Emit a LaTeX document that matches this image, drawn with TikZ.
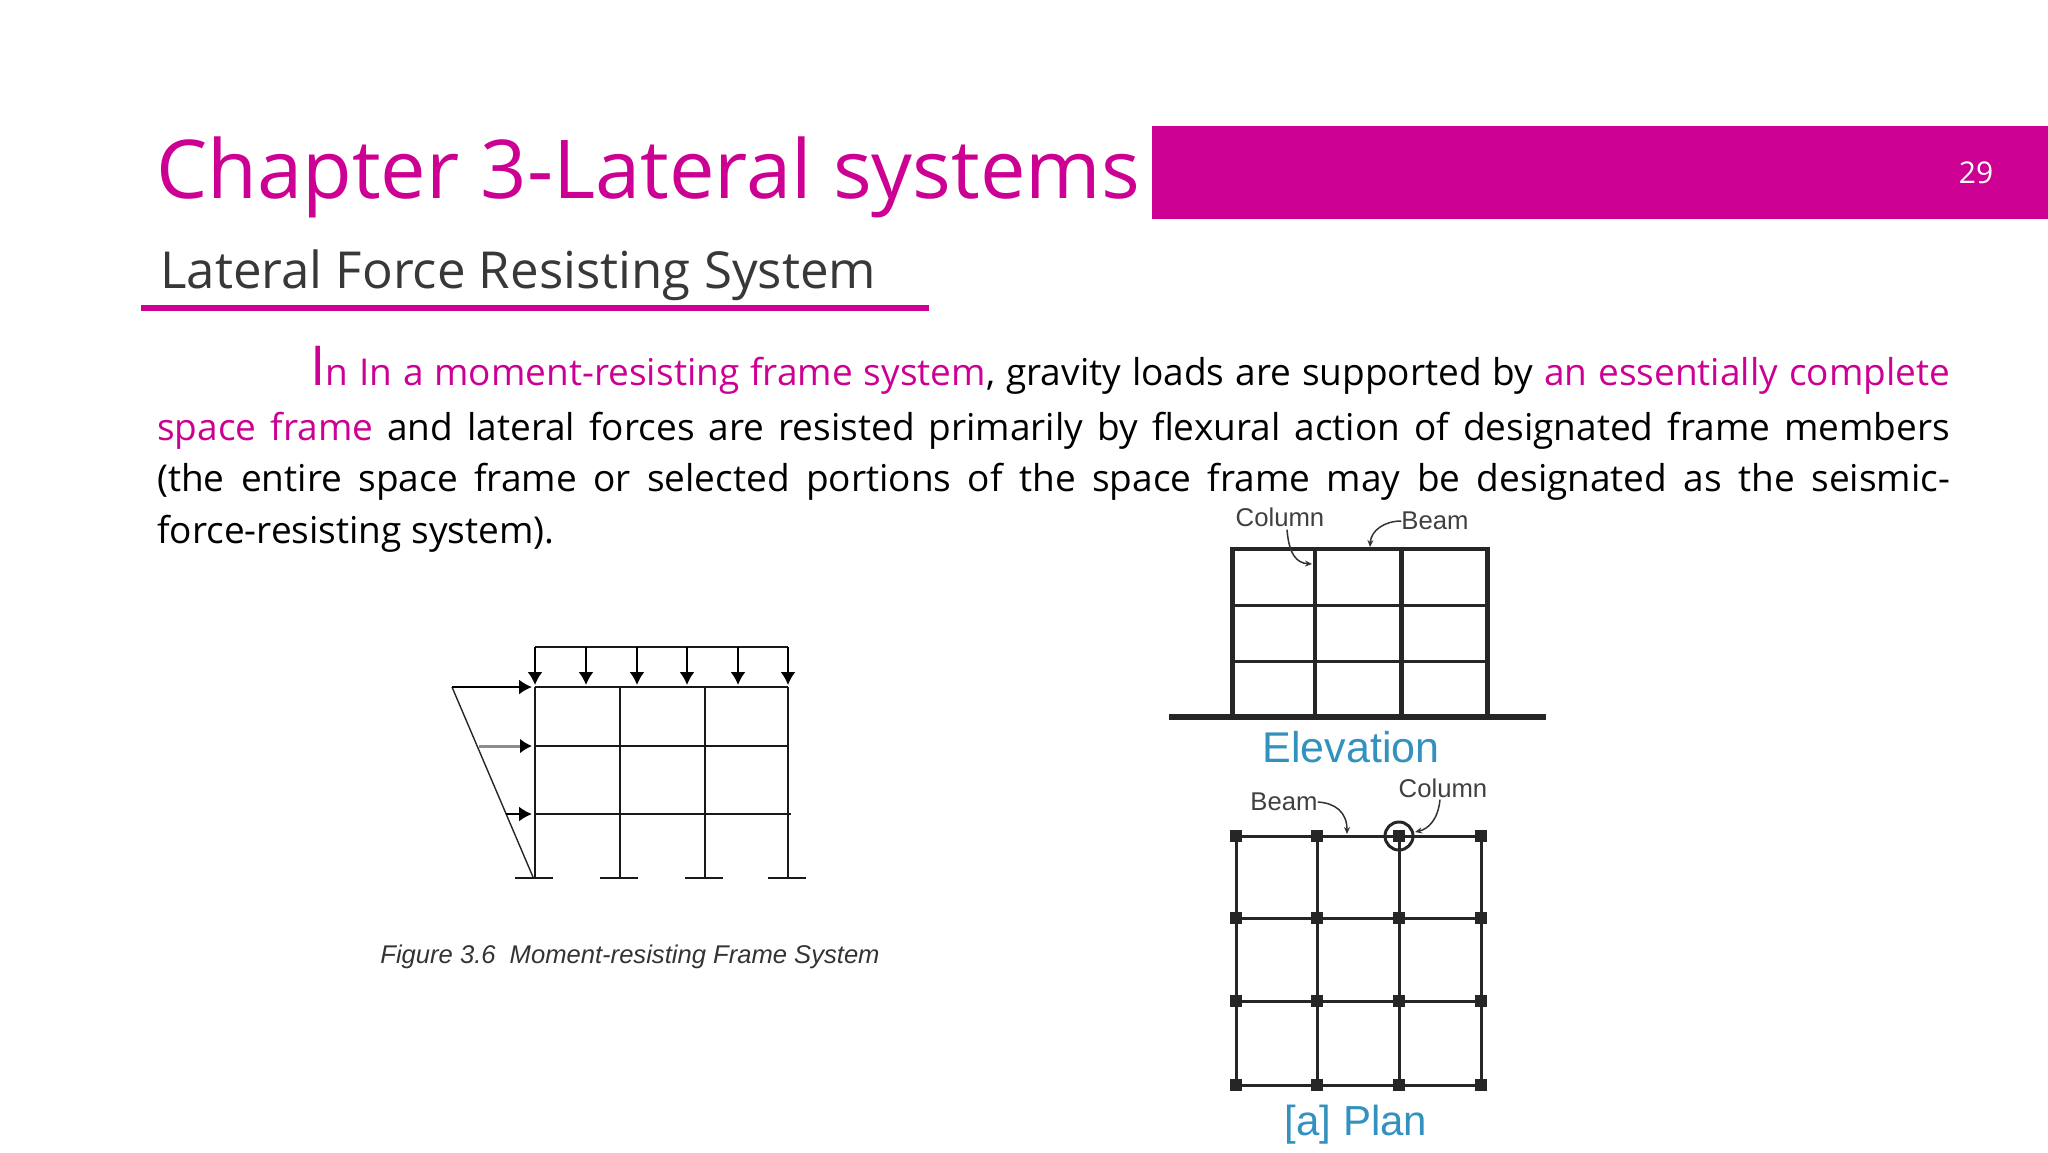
\documentclass[tikz,border=0pt]{standalone}
\usepackage{fontspec}
\usetikzlibrary{arrows.meta}
\setmainfont{Open Sans}
\setsansfont{Liberation Sans}
\definecolor{Mag}{RGB}{204,0,146}
\definecolor{Plan}{RGB}{50,145,190}
\newcommand{\drawframe}{\draw[line width=2pt,black!90]}
\newcommand{\magtext}[1]{\textcolor{Mag}{#1}}
\newcommand{\bodyline}[4]{\node[bodytext] (#1) at (#2,#3) {#4};}
\begin{document}
\begin{tikzpicture}[x=1pt,y=-1pt,
  bodytext/.style={anchor=base west,font=\fontsize{37}{37}\selectfont,inner sep=0},
  callout/.style={anchor=center,font=\sffamily\fontsize{25.7}{26}\selectfont,text=black!75,inner sep=0},
  bluetitle/.style={anchor=center,font=\sffamily\fontsize{43}{43}\selectfont,text=Plan,inner sep=0},
  loadtip/.style={-{Latex[length=13pt,width=15pt]},line width=2pt},
  calltip/.style={-{Stealth[length=7pt,width=6pt]},line width=1.5pt,black!80}]
\useasboundingbox (0,0) rectangle (2048,1152);
\fill[Mag] (1152,126) rectangle (2048,219);
\node[anchor=center,text=white,font=\fontsize{30}{30}\selectfont] (pagenum) at (1976,173) {29};
\node[anchor=base west,inner sep=0,text=Mag,font=\fontsize{81.2}{81}\selectfont] (title) at (156,198) {Chapter 3-Lateral systems};
\node[anchor=base west,inner sep=0,font=\fontsize{51}{51}\selectfont,text=black!78] (subtitle) at (160,288) {Lateral Force Resisting System};
\draw[Mag,line width=5.5pt] (141,308)--(929,308);
% body text
\bodyline{lineA}{310}{385}{\makebox[1640pt][s]{\magtext{{\fontsize{55}{55}\selectfont I}n In a moment-resisting frame system}, gravity loads are supported by \magtext{an essentially complete}}}
\bodyline{lineB}{157}{440}{\makebox[1793pt][s]{\magtext{space frame} and lateral forces are resisted primarily by flexural action of designated frame members}}
\bodyline{lineC}{157}{491}{\makebox[1793pt][s]{(the entire space frame or selected portions of the space frame may be designated as the seismic-}}
\bodyline{lineD}{157}{543}{force-resisting system).}
% moment frame
\foreach \x in {535,620,705,788}{
  \drawframe (\x,687)--(\x,878);
  \drawframe (\x-20,878)--(\x+18,878);
}
\drawframe (535,687)--(788,687);
\drawframe (535,746)--(788,746);
\drawframe (535,814)--(791,814);
\drawframe (535,647)--(788,647);
\foreach \x in {535,586,637,687,738,788}{
  \draw[loadtip] (\x,647)--(\x,685);
}
\draw[line width=1.4pt,black!85] (452,687)--(533,877);
\draw[loadtip] (452,687)--(532,687);
\draw[loadtip,draw=black!45,line width=3pt,{Latex[length=12pt,width=15pt,black]}-] (532,746)--(479,746);
\draw[loadtip] (506,814)--(532,814);
\node[anchor=center,inner sep=0,font=\sffamily\itshape\fontsize{25.6}{26}\selectfont,text=black!80] (framecap) at (630,957) {Figure 3.6\hspace{7pt} Moment-resisting Frame System};
% elevation
\draw[line width=6pt,black!85] (1169,717)--(1546,717);
\draw[line width=5pt,black!85] (1232,547)--(1232,717);
\draw[line width=4pt,black!85] (1315,547)--(1315,717);
\foreach \x in {1401,1487}{
  \draw[line width=5pt,black!85] (\x,547)--(\x,717);
}
\draw[line width=3.5pt,black!85] (1230,549)--(1489,549);
\foreach \y in {605,661}{
  \draw[line width=3pt,black!85] (1232,\y)--(1487,\y);
}
\node[callout] (elevcol) at (1280,517) {Column};
\node[callout] (elevbeam) at (1435,521) {Beam};
\coordinate (elevcolend) at (1312,564);
\coordinate (elevbeamend) at (1370,547);
\draw[calltip] (elevcol.south)++(7,3) .. controls (1289,555) and (1297,563) .. (elevcolend);
\draw[calltip] (elevbeam.west) .. controls (1385,521) and (1371,530) .. (elevbeamend);
\node[bluetitle] (elevtitle) at (1351,747) {Elevation};
% plan
\foreach \x in {1236,1317,1399,1481}{
  \draw[line width=3pt,black!85] (\x,836)--(\x,1085);
  \foreach \y in {836,918,1001,1085}{
    \fill[black!85] (\x-6,\y-6) rectangle (\x+6,\y+6);
  }
}
\foreach \y in {836,918,1001,1085}{
  \draw[line width=3pt,black!85] (1236,\y)--(1481,\y);
}
\draw[line width=3pt,black!85] (1399,836) circle (14);
\node[callout] (plancol) at (1443,788) {Column};
\node[callout] (planbeam) at (1284,802) {Beam};
\coordinate (plancolend) at (1415,832);
\coordinate (planbeamend) at (1347,834);
\draw[calltip] (planbeam.east) .. controls (1335,803) and (1347,812) .. (planbeamend);
\draw[calltip] (plancol.south)++(-3,2) .. controls (1438,820) and (1428,829) .. (plancolend);
\node[bluetitle,font=\sffamily\fontsize{42}{42}\selectfont] (plantitle) at (1356,1125) {[a] Plan};
\end{tikzpicture}
\end{document}
